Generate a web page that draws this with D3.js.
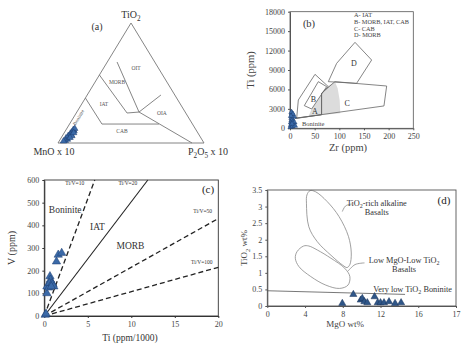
<!DOCTYPE html>
<html><head><meta charset="utf-8">
<script src="https://cdn.jsdelivr.net/npm/d3@7"></script>
<style>
body{margin:0;background:#fff;}
svg{display:block;font-family:"Liberation Serif","Times New Roman",serif;}
</style></head><body>
<svg id="c" width="474" height="357"></svg>
<script>
// ================= DATA =================
// (a) Ternary TiO2 - MnOx10 - P2O5x10 : points given as [TiO2, P2O5x10] fractions
const aVertices = ["TiO_2", "MnO x 10", "P_2O_5 x 10"];
const aTriangle = [[1,0],[0,0],[0,1]];
const aBoundaries = [
  [[0.375,0],[0.158,0.222],[0.158,0.613]],
  [[0.567,0],[0.25,0.348],[0.258,0.426]],
  [[0.675,0.067],[0.258,0.426]],
  [[0.258,0.426],[0.40,0.505]],
  [[0.258,0.426],[0,0.918]]
];
const aFieldNames = ["OIT","MORB","IAT","OIA","CAB"];
const aFieldAnchors = [[0.625,0.222],[0.508,0.150],[0.325,0.152],[0.25,0.587],[0.10,0.388]];
const aSamples = [[0.02,0.04],[0.03,0.05],[0.04,0.035],[0.05,0.05],[0.06,0.04],[0.07,0.055],
  [0.08,0.045],[0.09,0.05],[0.10,0.06],[0.11,0.05],[0.12,0.055],[0.06,0.065],[0.045,0.06],[0.085,0.065],[0.015,0.03]];

// (b) Ti vs Zr
const bZrTicks = [0,50,100,150,200,250];
const bTiTicks = [0,3000,6000,9000,12000,15000,18000];
const bShaded = [[37.2,1800],[43.9,2980],[74.3,6430],[91.2,7200],[96.6,6170],[100.7,4370],[102,2310],[64.2,2060]];
const bFieldA = [[13.5,1540],[16.9,4370],[50.7,8330],[77.7,6430],[64,5400],[64,2100]];
const bFieldB = [[29,3500],[57.4,7200],[74.3,6430],[43.9,2980]];
const bFieldC = [[91,7200],[196,6530],[190.5,3450],[10,1540],[64,2100],[64,5400]];
const bFieldD = [[131.8,13270],[165.5,10540],[135,6940],[77.7,7200],[94.6,10030]];
const bFieldLetters = ["A","B","C","D"];
const bLetterAnchors = [[50.7,2670],[47.3,4470],[116,3860],[129.7,10130]];
const bLegend = ["A- IAT","B- MORB, IAT, CAB","C- CAB","D- MORB"];
const bSamples = [[1,200],[2,500],[2,900],[3,1200],[3,1600],[4,2000],[4,2300],[5,1400],[6,1000],
  [7,600],[5,300],[3,2500],[8,1800],[9,900],[6,2200],[2,1900],[10,400],[4,700]];

// (c) V vs Ti/1000
const cTiTicks = [0,5,10,15,20];
const cVTicks = [0,100,200,300,400,500,600];
const cRatioNames = ["Ti/V=10","Ti/V=20","Ti/V=50","Ti/V=100"];
const cRatioEnds = [[5.8,600],[11.9,600],[20,430],[20,215]];
const cRatioLabelAt = [[3.5,578],[9.6,578],[18.2,454],[18.1,229]];
const cFieldNames = ["Boninite","IAT","MORB"];
const cFieldAnchors = [[2.4,468],[6.1,393],[9.9,309]];
const cSamples = [[0.3,100],[0.3,130],[0.5,125],[0.65,175],[0.7,160],[0.6,145],[0.9,145],[1.0,140],
  [1.1,130],[0.8,130],[1.4,240],[1.6,270],[2.0,278],[0.1,5],[0.2,10]];

// (d) TiO2 vs MgO
const dMgOTicks = [0,4,8,12,16,20];
const dMgOTickLabels = ["0","4","8","12","16","17"];
const dTiO2Ticks = [0,0.5,1,1.5,2,2.5,3,3.5];
const dAlkaline = [[4.52,3.48],[5.1,3.45],[6.35,3.15],[7.6,2.7],[8.6,2.1],[8.9,1.6],[8.75,1.25],[8.45,1.16],
  [8.0,1.23],[6.75,1.53],[5.3,1.94],[4.4,2.39],[4.15,3.1],[4.2,3.35]];
const dLowMgO = [[3.85,1.81],[3.15,1.64],[2.97,1.44],[3.35,1.19],[4.6,0.89],[6.2,0.63],[7.65,0.53],[8.55,0.63],
  [8.75,0.89],[8.2,1.14],[6.75,1.44],[5.3,1.69],[4.4,1.81]];
const dLeaders = [[[7.95,2.85],[8.3,3.02],[9.0,3.08]],[[8.55,1.05],[9.3,1.25],[10.3,1.3]]];
const dBoniniteLine = [[0,0.46],[14.6,0.35]];
const dFieldNames = [["TiO_2-rich alkaline","Basalts"],["Low MgO-Low TiO_2","Basalts"],["Very low TiO_2 Boninite"]];
const dFieldAnchors = [[11.6,3.03],[14.5,1.3],[15.4,0.43]];
const dSamples = [[7.95,0.08],[9.12,0.35],[9.9,0.18],[10.07,0.23],[10.29,0.13],[10.6,0.10],[11.37,0.28],
  [11.7,0.10],[12.0,0.10],[12.37,0.10],[12.9,0.13],[13.54,0.08],[14.18,0.10]];

// ================= DRAW =================
const svg = d3.select("#c");
const line = d3.line();
const BLUE = "#3b6aa8", BLUE_D = "#1f3e70";

function rich(t, s, fs){
  const parts = s.split(/(_\d)/).filter(p=>p!=="");
  let sub=false;
  parts.forEach(p=>{
    if(p.startsWith("_")){ t.append("tspan").attr("dy",fs*0.28).attr("font-size",fs*0.72).text(p.slice(1)); sub=true; }
    else { const ts=t.append("tspan").text(p); if(sub){ ts.attr("dy",-fs*0.28); sub=false; } }
  });
  return t;
}
function txt(g,x,y,s,fs,anchor,fill){
  const t=g.append("text").attr("x",x).attr("y",y).attr("font-size",fs)
    .attr("text-anchor",anchor||"middle").attr("fill",fill||"#333");
  return rich(t,s,fs);
}
const tri = (size)=>d3.symbol().type(d3.symbolTriangle).size(size);
function styleAxis(a,col,fs){
  a.select(".domain").attr("stroke",col);
  a.selectAll("line").attr("stroke",col);
  a.selectAll("text").attr("font-family","Liberation Serif").attr("font-size",fs).attr("fill","#444");
}

// ---------- (a)
{
  const g = svg.append("g");
  const X = d3.scaleLinear([0,1],[58,204]);
  const Y = d3.scaleLinear([0,1],[143,23]);
  const tern = ([ti,p]) => [X(p+ti/2), Y(ti)];
  g.append("path").attr("d", line(aTriangle.map(tern))+"Z").attr("fill","none").attr("stroke","#777").attr("stroke-width",0.9);
  aBoundaries.forEach(b=>g.append("path").attr("d",line(b.map(tern))).attr("fill","none").attr("stroke","#777").attr("stroke-width",0.9));
  aFieldNames.forEach((n,i)=>{const [x,y]=tern(aFieldAnchors[i]); txt(g,x,y+2,n,5.5,"middle","#555");});
  const [tx,ty]=tern(aTriangle[0]); txt(g,tx,ty-5,aVertices[0],10,"middle","#333");
  const [lx,ly]=tern(aTriangle[1]); txt(g,lx-4,ly+12,aVertices[1],10,"middle","#333");
  const [rx,ry]=tern(aTriangle[2]); txt(g,rx+4,ry+12,aVertices[2],10,"middle","#333");
  txt(g,97,30,"(a)",10,"middle","#333");
  const [bx,by]=tern([0.206,0.048]);
  g.append("text").attr("transform",`translate(${bx},${by}) rotate(-59)`).attr("font-size",5).attr("text-anchor","middle").attr("fill","#555").text("Boninite");
  g.selectAll(".pa").data(aSamples).join("path").attr("d",tri(18))
    .attr("transform",d=>`translate(${tern(d)})`).attr("fill",BLUE).attr("stroke",BLUE_D).attr("stroke-width",0.5);
}

// ---------- (b)
{
  const g = svg.append("g");
  const X = d3.scaleLinear([0,250],[290,413.3]);
  const Y = d3.scaleLinear([0,18000],[128.3,11.7]);
  const pl = pts=>line(pts.map(([a,b])=>[X(a),Y(b)]))+"Z";
  g.append("path").attr("d",pl(bShaded)).attr("fill","#dcdcdc").attr("stroke","none");
  [bFieldA,bFieldB,bFieldC,bFieldD].forEach(f=>g.append("path").attr("d",pl(f)).attr("fill","none").attr("stroke","#666").attr("stroke-width",0.8));
  bFieldLetters.forEach((l,i)=>txt(g,X(bLetterAnchors[i][0]),Y(bLetterAnchors[i][1])+3,l,8,"middle","#333"));
  g.append("rect").attr("x",X(0)).attr("y",Y(18000)).attr("width",X(250)-X(0)).attr("height",Y(0)-Y(18000)).attr("fill","none").attr("stroke","#555").attr("stroke-width",0.8);
  const ax=g.append("g").attr("transform",`translate(0,${Y(0)})`).call(d3.axisBottom(X).tickValues(bZrTicks).tickFormat(d3.format("d")).tickSize(2).tickSizeOuter(0));
  const ay=g.append("g").attr("transform",`translate(${X(0)},0)`).call(d3.axisLeft(Y).tickValues(bTiTicks).tickFormat(d3.format("d")).tickSize(2).tickSizeOuter(0));
  styleAxis(ax,"#555",8); styleAxis(ay,"#555",8);
  txt(g,348,151,"Zr (ppm)",10.5,"middle","#444");
  g.append("text").attr("transform","translate(254,70) rotate(-90)").attr("font-size",10.5).attr("text-anchor","middle").attr("fill","#444").text("Ti (ppm)");
  bLegend.forEach((s,i)=>txt(g,354,17+i*6.8,s,6.3,"start","#444"));
  txt(g,309,27,"(b)",10.5,"middle","#333");
  txt(g,302,126,"Boninite",6.5,"start","#444");
  g.selectAll(".pb").data(bSamples).join("path").attr("d",tri(12))
    .attr("transform",d=>`translate(${X(d[0])},${Y(d[1])})`).attr("fill",BLUE).attr("stroke",BLUE_D).attr("stroke-width",0.5);
}

// ---------- (c)
{
  const g = svg.append("g");
  const X = d3.scaleLinear([0,20],[44.3,218.3]);
  const Y = d3.scaleLinear([0,600],[316,180]);
  cRatioEnds.forEach((e,i)=>g.append("path").attr("d",line([[X(0),Y(0)],[X(e[0]),Y(e[1])]]))
    .attr("stroke","#222").attr("stroke-width",i===1?1.1:1.3).attr("stroke-dasharray",i===1?null:"5,3").attr("fill","none"));
  cRatioNames.forEach((n,i)=>txt(g,X(cRatioLabelAt[i][0]),Y(cRatioLabelAt[i][1]),n,5.5,"middle","#333"));
  cFieldNames.forEach((n,i)=>txt(g,X(cFieldAnchors[i][0]),Y(cFieldAnchors[i][1])+3,n,9.5,"middle","#333"));
  g.append("rect").attr("x",X(0)).attr("y",Y(600)).attr("width",X(20)-X(0)).attr("height",Y(0)-Y(600)).attr("fill","none").attr("stroke","#333").attr("stroke-width",0.9);
  const ax=g.append("g").attr("transform",`translate(0,${Y(0)})`).call(d3.axisBottom(X).tickValues(cTiTicks).tickSize(2).tickSizeOuter(0));
  const ay=g.append("g").attr("transform",`translate(${X(0)},0)`).call(d3.axisLeft(Y).tickValues(cVTicks).tickSize(2).tickSizeOuter(0));
  styleAxis(ax,"#333",8); styleAxis(ay,"#333",8);
  txt(g,130,341,"Ti (ppm/1000)",9.5,"middle","#333");
  g.append("text").attr("transform","translate(15,248) rotate(-90)").attr("font-size",10).attr("text-anchor","middle").attr("fill","#333").text("V (ppm)");
  txt(g,208,193,"(c)",11,"middle","#222");
  g.selectAll(".pc").data(cSamples).join("path").attr("d",tri(30))
    .attr("transform",d=>`translate(${X(d[0])},${Y(d[1])})`).attr("fill",BLUE).attr("stroke",BLUE_D).attr("stroke-width",0.5);
}

// ---------- (d)
{
  const g = svg.append("g");
  const X = d3.scaleLinear([0,20],[267.3,456]);
  const Y = d3.scaleLinear([0,3.5],[306,190]);
  const P = pts=>pts.map(([a,b])=>[X(a),Y(b)]);
  const loop = d3.line().curve(d3.curveCatmullRomClosed);
  [dAlkaline,dLowMgO].forEach(f=>g.append("path").attr("d",loop(P(f))).attr("fill","none").attr("stroke","#888").attr("stroke-width",0.8));
  const curve = d3.line().curve(d3.curveCatmullRom);
  dLeaders.forEach(l=>g.append("path").attr("d",curve(P(l))).attr("fill","none").attr("stroke","#888").attr("stroke-width",0.8));
  g.append("path").attr("d",line(P(dBoniniteLine))).attr("fill","none").attr("stroke","#555").attr("stroke-width",0.8);
  dFieldNames.forEach((ls,i)=>ls.forEach((s,j)=>txt(g,X(dFieldAnchors[i][0]),Y(dFieldAnchors[i][1])+j*9.5,s,8.3,"middle","#333")));
  g.append("rect").attr("x",X(0)).attr("y",Y(3.5)).attr("width",X(20)-X(0)).attr("height",Y(0)-Y(3.5)).attr("fill","none").attr("stroke","#555").attr("stroke-width",0.9);
  const ax=g.append("g").attr("transform",`translate(0,${Y(0)})`).call(d3.axisBottom(X).tickValues(dMgOTicks).tickFormat((d,i)=>dMgOTickLabels[i]).tickSize(2).tickSizeOuter(0));
  const ay=g.append("g").attr("transform",`translate(${X(0)},0)`).call(d3.axisLeft(Y).tickValues(dTiO2Ticks).tickFormat(d3.format("")).tickSize(2).tickSizeOuter(0));
  styleAxis(ax,"#555",8); styleAxis(ay,"#555",8);
  txt(g,345,327,"MgO wt%",9,"middle","#444");
  const yl=g.append("text").attr("transform","translate(247,248) rotate(-90)").attr("font-size",9).attr("text-anchor","middle").attr("fill","#444");
  rich(yl,"TiO_2 wt%",9);
  txt(g,444,204,"(d)",11,"middle","#222");
  g.selectAll(".pd").data(dSamples).join("path").attr("d",tri(22))
    .attr("transform",d=>`translate(${X(d[0])},${Y(d[1])})`).attr("fill","#2f5688").attr("stroke","#1a3358").attr("stroke-width",0.5);
}
</script></body></html>
